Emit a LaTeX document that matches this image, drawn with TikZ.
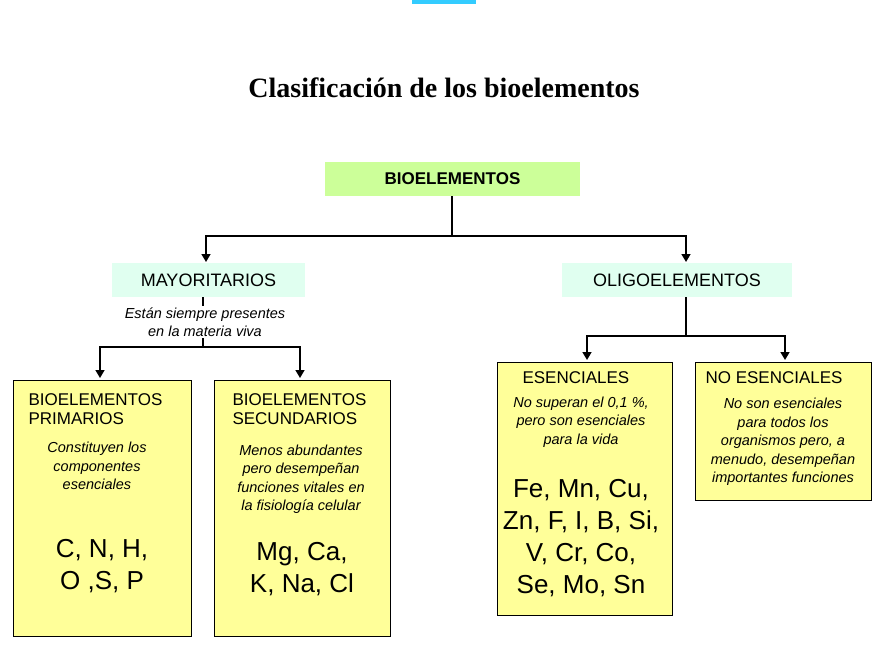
\documentclass[tikz,border=0pt]{standalone}
\usepackage{fontspec}
\setmainfont{Liberation Sans}
\newfontfamily\titlefont{Liberation Serif}
\usetikzlibrary{arrows.meta}
\definecolor{ygold}{HTML}{FFFF99}
\definecolor{gtop}{HTML}{CCFF99}
\definecolor{mint}{HTML}{E0FFF0}
\definecolor{cyanbar}{HTML}{33CCFF}
\begin{document}
\begin{tikzpicture}[x=1pt,y=-1pt,
  conn/.style={line width=1.6pt,-{Triangle[length=8pt,width=9pt]}},
  plain/.style={line width=1.6pt},
  ybox/.style={draw=black,fill=ygold,line width=0.8pt},
  hd/.style={font=\fontsize{17}{17}\selectfont,anchor=west},
  it/.style={font=\fontsize{14.5}{18.5}\selectfont\itshape,align=center},
  big/.style={font=\fontsize{26}{32}\selectfont,align=center}]
\useasboundingbox (0,0) rectangle (888,658);
\fill[cyanbar] (412,0) rectangle (476,4);
\node[font=\titlefont\bfseries\fontsize{28}{28}\selectfont] (title) at (444,88) {Clasificación de los bioelementos};
% top boxes
\node[fill=gtop,minimum width=255pt,minimum height=34pt,font=\bfseries\fontsize{17}{17}\selectfont] (bio) at (452.5,179) {BIOELEMENTOS};
\node[fill=mint,minimum width=193pt,minimum height=34pt,font=\fontsize{18}{18}\selectfont] (may) at (208.5,280) {MAYORITARIOS};
\node[fill=mint,minimum width=230pt,minimum height=34pt,font=\fontsize{18}{18}\selectfont] (oli) at (677,280) {OLIGOELEMENTOS};
% yellow boxes
\node[ybox,minimum width=178pt,minimum height=256pt] (pri) at (102,508) {};
\node[ybox,minimum width=176pt,minimum height=256pt] (sec) at (302,508) {};
\node[ybox,minimum width=175pt,minimum height=253pt] (ese) at (584.5,488.5) {};
\node[ybox,minimum width=176pt,minimum height=138pt] (noe) at (783,431) {};
% connectors
\coordinate (b1) at (452,236);
\draw[plain] (bio.south -| b1) -- (b1);
\draw[conn] (b1) -| (206,262);
\draw[conn] (b1) -| (686,262);
\coordinate (m1) at (203,347);
\draw[plain] (may.south -| m1) -- (m1);
\draw[conn] (m1) -| (100,378);
\draw[conn] (m1) -| (300,378);
\node[it,fill=white,inner sep=1pt] (mt) at (205,322) {Están siempre presentes\\en la materia viva};
\coordinate (o1) at (686,336);
\draw[plain] (oli.south -| o1) -- (o1);
\draw[conn] (o1) -| (587,360);
\draw[conn] (o1) -| (785,360);
% texts
\node[hd,align=left] (pt) at (25,409) {BIOELEMENTOS\\[2pt]PRIMARIOS};
\node[it] (pd) at (97,466) {Constituyen los\\componentes\\esenciales};
\node[big] (pb) at (102,566) {C, N, H,\\O ,S, P};
\node[hd,align=left] (st) at (229,409) {BIOELEMENTOS\\[2pt]SECUNDARIOS};
\node[it] (sd) at (301,479) {Menos abundantes\\pero desempeñan\\funciones vitales en\\la fisiología celular};
\node[big] (sb) at (302,569) {Mg, Ca,\\K, Na, Cl};
\node[hd] (et) at (519,378) {ESENCIALES};
\node[it] (ed) at (581,422) {No superan el 0,1 \%,\\pero son esenciales\\para la vida};
\node[big] (eb) at (581,538) {Fe, Mn, Cu,\\Zn, F, I, B, Si,\\V, Cr, Co,\\Se, Mo, Sn};
\node[hd] (nt) at (702,378) {NO ESENCIALES};
\node[it] (nd) at (783,442) {No son esenciales\\para todos los\\organismos pero, a\\menudo, desempeñan\\importantes funciones};
\end{tikzpicture}
\end{document}
